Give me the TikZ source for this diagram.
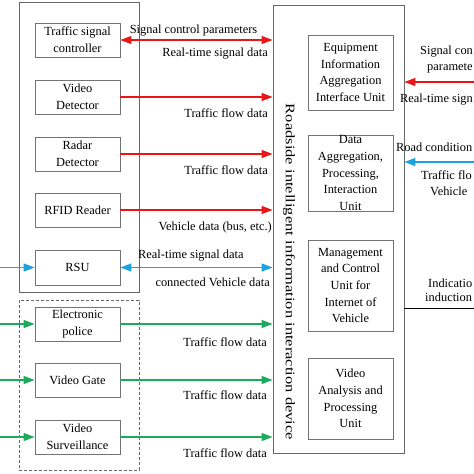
\documentclass[tikz,border=0pt]{standalone}
\usepackage{fontspec}
\setmainfont{Liberation Serif}
\usepackage{graphicx}
\usetikzlibrary{arrows.meta}
\definecolor{sigred}{RGB}{232,22,22}
\definecolor{netblue}{RGB}{28,162,224}
\definecolor{camgreen}{RGB}{28,170,92}

\begin{document}
\begin{tikzpicture}[x=1pt, y=-1pt,
        every node/.style={font=\fontsize{12.4}{16.7}\selectfont},
        unit/.style={draw=black!55, line width=0.8pt, minimum width=85pt, minimum height=34pt, align=center, inner sep=0pt},
        group/.style={draw=black!60, line width=0.9pt, minimum width=120pt, inner sep=0pt},
        lbl/.style={inner sep=0pt},
        flow/.style={line width=1.2pt, -{Triangle[length=11pt,width=8pt]}},
        both/.style={line width=1.2pt, {Triangle[length=11pt,width=8pt]}-{Triangle[length=11pt,width=8pt]}}]
				\useasboundingbox (0,0) rectangle (474,474);
				% groups of field equipment
				\node[group, minimum height=290pt] (sensors) at (79,147){};
				\node[group, minimum height=170pt, dash pattern=on 3pt off 2pt] (cameras) at (79,385){};
				\node[group, minimum width=131pt, minimum height=448pt] (dev) at (338.5,229){};
				\node (devname) at (289,272)[rotate=-90]{\scalebox{1.33}[1.05]{Roadside intelligent information interaction device}};
				% field equipment
				\node[unit] (tsc) at (77.5,40){Traffic signal\\controller};
				\node[unit] (vd) at (77.5,97){Video\\Detector};
				\node[unit] (rd) at (77.5,154){Radar\\Detector};
				\node[unit] (rfid) at (77.5,210){RFID Reader};
				\node[unit, minimum height=35pt] (rsu) at (77.5,267.5){RSU};
				\node[unit] (ep) at (77.5,324){Electronic\\police};
				\node[unit] (vg) at (77.5,380){Video Gate};
				\node[unit] (vs) at (77.5,437){Video\\Surveillance};
				% units of the device
				\node[unit, minimum height=75pt] (eq) at (350.5,72.5){Equipment\\Information\\Aggregation\\Interface Unit};
				\node[unit, minimum height=76pt] (da) at (350.5,173){Data\\Aggregation,\\Processing,\\Interaction\\Unit};
				\node[unit, minimum height=91pt] (mg) at (350.5,285.5){Management\\and Control\\Unit for\\Internet of\\Vehicle};
				\node[unit, minimum height=81pt] (va) at (350.5,398.5){Video\\Analysis and\\Processing\\Unit};
				% links to the device
				\draw [both, sigred](tsc) -- (tsc -| dev.west);
				\draw [flow, sigred](vd) -- (vd -| dev.west);
				\draw [flow, sigred](rd) -- (rd -| dev.west);
				\draw [flow, sigred](rfid) -- (rfid -| dev.west);
				\draw [both, netblue](rsu) -- (rsu -| dev.west);
				\draw [flow, camgreen](ep) -- (ep -| dev.west);
				\draw [flow, camgreen](vg) -- (vg -| dev.west);
				\draw [flow, camgreen](vs) -- (vs -| dev.west);
				\node[lbl] (l1) at (193.5,31){Signal control parameters};
				\node[lbl, anchor=east] (l2) at (268,54){Real-time signal data};
				\node[lbl, anchor=east] (l3) at (268,113){Traffic flow data};
				\node[lbl, anchor=east] (l4) at (268,170){Traffic flow data};
				\node[lbl, anchor=east] (l5) at (272,228){Vehicle data (bus, etc.)};
				\node[lbl, anchor=west] (l6) at (138,256){Real-time signal data};
				\node[lbl, anchor=east] (l7) at (270,282){connected Vehicle data};
				\node[lbl, anchor=east] (l8) at (267,342){Traffic flow data};
				\node[lbl, anchor=east] (l9) at (267,395){Traffic flow data};
				\node[lbl, anchor=east] (l10) at (267,453){Traffic flow data};
				% inputs from the left
				\coordinate (inR) at (0,267.5);
				\coordinate (inE) at (0,324);
				\coordinate (inG) at (0,380);
				\coordinate (inS) at (0,437);
				\draw [flow, netblue](inR) -- (rsu);
				\draw [flow, camgreen](inE) -- (ep);
				\draw [flow, camgreen](inG) -- (vg);
				\draw [flow, camgreen](inS) -- (vs);
				% inputs from the right
				\coordinate (outA) at (474,82);
				\coordinate (outB) at (474,162);
				\coordinate (outC) at (474,308);
				\draw [flow, sigred](outA) -- (outA -| dev.east);
				\draw [flow, netblue](outB) -- (outB -| dev.east);
				\draw [line width=1pt](outC) -- (outC -| dev.east);
				\node[lbl, anchor=west] (r1) at (420,52){Signal con};
				\node[lbl, anchor=west] (r2) at (427,68){paramete};
				\node[lbl, anchor=west] (r3) at (400,100){Real-time sign};
				\node[lbl, anchor=west] (r4) at (396,147){Road condition};
				\node[lbl, anchor=west] (r5) at (421,175){Traffic flo};
				\node[lbl, anchor=west] (r6) at (430,191){Vehicle};
				\node[lbl, anchor=west] (r7) at (428,283){Indicatio};
				\node[lbl, anchor=west] (r8) at (425,297){induction};
			\end{tikzpicture}
\end{document}
